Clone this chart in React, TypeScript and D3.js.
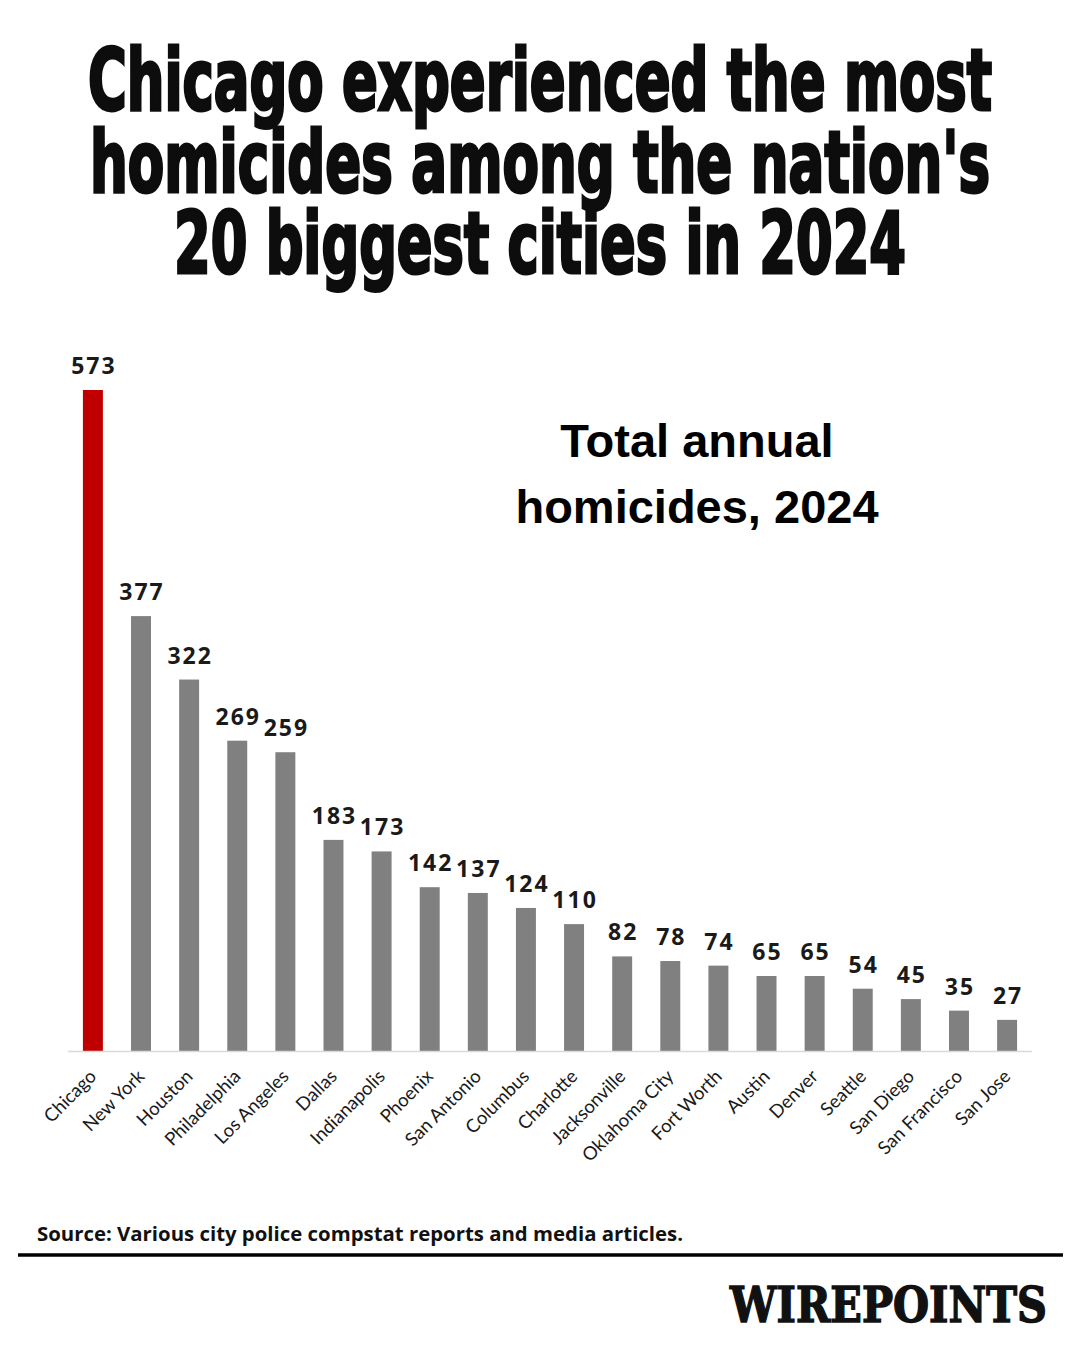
import * as d3 from "d3";
import { useLayoutEffect, useRef } from "react";

const cities = [
  "Chicago", "New York", "Houston", "Philadelphia", "Los Angeles", "Dallas",
  "Indianapolis", "Phoenix", "San Antonio", "Columbus", "Charlotte", "Jacksonville",
  "Oklahoma City", "Fort Worth", "Austin", "Denver", "Seattle", "San Diego",
  "San Francisco", "San Jose"
];
const homicides = [573, 377, 322, 269, 259, 183, 173, 142, 137, 124, 110, 82, 78, 74, 65, 65, 54, 45, 35, 27];
const highlight = "Chicago";

const titleLines = [
  "Chicago experienced the most",
  "homicides among the nation's",
  "20 biggest cities in 2024"
];
const subtitleLines = ["Total annual", "homicides, 2024"];
const source = "Source: Various city police compstat reports and media articles.";
const brand = "WIREPOINTS";

const W = 1080;
const H = 1350;

// title layout: baseline and target width of each line
const titleBase = [110, 192, 273];
const titleWidth = [904, 900, 732];

export default function App() {
  const titleRef = useRef<SVGGElement>(null);
  const brandRef = useRef<SVGTextElement>(null);

  const x = d3.scaleBand<string>()
    .domain(cities)
    .range([68, 1032])
    .paddingInner(0.585)
    .paddingOuter(0.31);
  const y = d3.scaleLinear([0, 573], [1051, 390]);
  const bw = x.bandwidth();

  // squeeze condensed texts horizontally to the widths they have in the reference
  useLayoutEffect(() => {
    if (titleRef.current) {
      d3.select(titleRef.current).selectAll<SVGTextElement, unknown>("text").each(function (_d, i) {
        const s = titleWidth[i] / this.getComputedTextLength();
        d3.select(this).attr("transform", `translate(540,${titleBase[i]}) scale(${s},1.04)`);
      });
    }
    if (brandRef.current) {
      const s = 317 / brandRef.current.getComputedTextLength();
      d3.select(brandRef.current).attr("transform", `translate(1047,1322) scale(${s},1)`);
    }
  }, []);

  return (
    <div style={{ position: "absolute", left: 0, top: 0 }}>
      <svg width={W} height={H} viewBox={`0 0 ${W} ${H}`} style={{ display: "block", background: "#fff" }}>
        <rect width={W} height={H} fill="#fff" />

        {/* title */}
        <g ref={titleRef} fontFamily="'DejaVu Sans Condensed', 'DejaVu Sans', sans-serif" fontWeight={700}
          fontSize={82} fill="#0d0d0d" stroke="#0d0d0d" strokeWidth={3} textAnchor="middle">
          {titleLines.map((t, i) => (
            <text key={t} transform={`translate(540,${titleBase[i]}) scale(0.7,1.04)`}>{t}</text>
          ))}
        </g>

        {/* subtitle */}
        <g fontFamily="'Liberation Sans', Arial, sans-serif" fontWeight={700} fontSize={47} fill="#000" textAnchor="middle">
          {subtitleLines.map((t, i) => (
            <text key={t} x={697} y={457 + i * 66}>{t}</text>
          ))}
        </g>

        {/* bars */}
        {cities.map((c, i) => (
          <rect key={c} x={x(c)} y={y(homicides[i])} width={bw} height={y(0) - y(homicides[i])}
            fill={c === highlight ? "#c00000" : "#808080"} />
        ))}

        {/* axis line */}
        <line x1={68} x2={1032} y1={y(0) + 0.5} y2={y(0) + 0.5} stroke="#d9d9d9" strokeWidth={1.5} />

        {/* value labels */}
        <g fontFamily="'Open Sans', sans-serif" fontWeight={700} fontSize={23} fill="#1a1a1a" textAnchor="middle"
          letterSpacing={2}>
          {cities.map((c, i) => (
            <text key={c} x={(x(c) ?? 0) + bw / 2 + 1} y={y(homicides[i]) - 16}>{homicides[i]}</text>
          ))}
        </g>

        {/* category labels */}
        <g fontFamily="Lato, 'Open Sans', sans-serif" fontSize={18.5} fill="#1a1a1a" textAnchor="end">
          {cities.map((c) => (
            <text key={c} transform={`translate(${(x(c) ?? 0) + bw / 2},${y(0) + 22}) rotate(-45)`} dy="0.35em">{c}</text>
          ))}
        </g>

        {/* source */}
        <text x={37} y={1241} fontFamily="'Open Sans', sans-serif" fontWeight={700} fontSize={19} fill="#111"
          textLength={646} lengthAdjust="spacingAndGlyphs">{source}</text>
        <line x1={18} x2={1063} y1={1255} y2={1255} stroke="#000" strokeWidth={3.5} />

        {/* brand */}
        <text ref={brandRef} transform="translate(1047,1322) scale(0.9,1)" textAnchor="end"
          fontFamily="'DejaVu Serif', serif" fontWeight={900} fontSize={48}
          fill="#111" stroke="#111" strokeWidth={1.5}>{brand}</text>
      </svg>
    </div>
  );
}
